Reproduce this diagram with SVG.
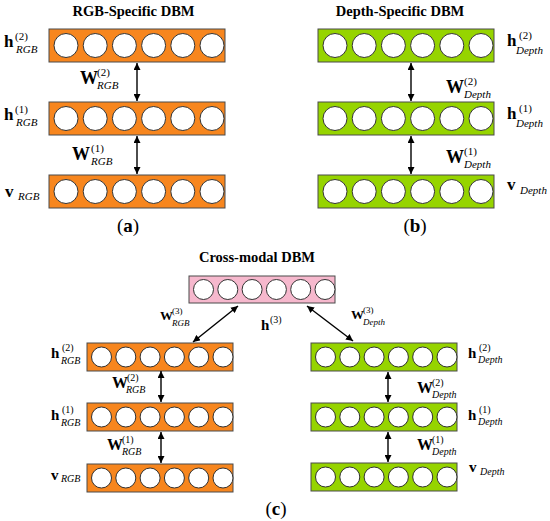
<svg xmlns="http://www.w3.org/2000/svg" xmlns:xlink="http://www.w3.org/1999/xlink" width="550" height="521" viewBox="0 0 550 521">
<style>
text{font-family:"Liberation Serif","Times New Roman",serif;fill:#000}
.title{font-size:14.5px;font-weight:bold;text-anchor:middle}
.big{font-size:17px;font-weight:bold}
.wbig{font-size:18px;font-weight:bold}
.mid{font-size:15px;font-weight:bold}
.wmid{font-size:16px;font-weight:bold}
.sm{font-size:13px;font-weight:bold}
.sup{font-size:11px}
.sub{font-size:11px;font-style:italic}
.sup2{font-size:10px}
.sub2{font-size:10px;font-style:italic}
.sup3{font-size:9px}
.sub3{font-size:9px;font-style:italic}
.cap{font-size:19px;text-anchor:middle}
.org{fill:#f7861e;stroke:#4a4a4a;stroke-width:1}
.grn{fill:#96d400;stroke:#4a4a4a;stroke-width:1}
.pnk{fill:#f6b8cd;stroke:#4a4a4a;stroke-width:1}
.cir{fill:#fff;stroke:#333;stroke-width:1}
.arr{stroke:#000;stroke-width:1.4;fill:none;marker-start:url(#ah);marker-end:url(#ah)}
</style>
<defs>
<marker id="ah" viewBox="0 0 10 10" refX="10" refY="5" markerWidth="5.5" markerHeight="5" orient="auto-start-reverse" markerUnits="strokeWidth">
<path d="M0,0 L10,5 L0,10 z" fill="#000"/>
</marker>
<g id="cb">
<circle class="cir" cx="17" cy="16.5" r="12"/>
<circle class="cir" cx="46.2" cy="16.5" r="12"/>
<circle class="cir" cx="75.4" cy="16.5" r="12"/>
<circle class="cir" cx="104.6" cy="16.5" r="12"/>
<circle class="cir" cx="133.8" cy="16.5" r="12"/>
<circle class="cir" cx="163" cy="16.5" r="12"/>
</g>
<g id="cs">
<circle class="cir" cx="14.5" cy="14" r="10"/>
<circle class="cir" cx="38.8" cy="14" r="10"/>
<circle class="cir" cx="63.1" cy="14" r="10"/>
<circle class="cir" cx="87.4" cy="14" r="10"/>
<circle class="cir" cx="111.7" cy="14" r="10"/>
<circle class="cir" cx="136" cy="14" r="10"/>
</g>
</defs>

<!-- Titles and captions -->
<text class="title" x="133.5" y="16">RGB-Specific DBM</text>
<text class="title" x="400" y="16">Depth-Specific DBM</text>
<text class="title" x="257" y="262">Cross-modal DBM</text>
<text class="cap" x="128" y="232">(<tspan font-weight="bold">a</tspan>)</text>
<text class="cap" x="415" y="232">(<tspan font-weight="bold">b</tspan>)</text>
<text class="cap" x="276" y="515">(<tspan font-weight="bold">c</tspan>)</text>

<!-- Panel (a) -->
<g id="a_h2">
<rect class="org" x="49" y="29" width="176" height="33"/>
<use xlink:href="#cb" href="#cb" transform="translate(49,29)"/>
<text class="big" x="4" y="47">h</text><text class="sup" x="15" y="40">(2)</text><text class="sub" x="16" y="53">RGB</text>
</g>
<g id="a_h1">
<rect class="org" x="49" y="102" width="176" height="33"/>
<use xlink:href="#cb" href="#cb" transform="translate(49,102)"/>
<text class="big" x="4" y="120">h</text><text class="sup" x="15" y="113">(1)</text><text class="sub" x="16" y="126">RGB</text>
</g>
<g id="a_v">
<rect class="org" x="49" y="175" width="176" height="33"/>
<use xlink:href="#cb" href="#cb" transform="translate(49,175)"/>
<text class="big" x="5" y="197">v</text><text class="sub" x="18" y="200">RGB</text>
</g>

<!-- Panel (b) -->
<g id="b_h2">
<rect class="grn" x="318" y="29" width="176" height="33"/>
<use xlink:href="#cb" href="#cb" transform="translate(318,29)"/>
<text class="big" x="507" y="46">h</text><text class="sup" x="519" y="39">(2)</text><text class="sub" x="516" y="54">Depth</text>
</g>
<g id="b_h1">
<rect class="grn" x="318" y="102" width="176" height="33"/>
<use xlink:href="#cb" href="#cb" transform="translate(318,102)"/>
<text class="big" x="507" y="119">h</text><text class="sup" x="519" y="112">(1)</text><text class="sub" x="516" y="127">Depth</text>
</g>
<g id="b_v">
<rect class="grn" x="318" y="175" width="176" height="33"/>
<use xlink:href="#cb" href="#cb" transform="translate(318,175)"/>
<text class="big" x="507" y="190">v</text><text class="sub" x="520" y="194">Depth</text>
</g>

<!-- Panel (c) -->
<g id="c_h3">
<rect class="pnk" x="189" y="276" width="146" height="27"/>
<use xlink:href="#cs" href="#cs" transform="translate(189,275.5)"/>
<text class="mid" x="261" y="330">h</text><text class="sup2" x="270" y="323">(3)</text>
</g>
<g id="c_rgb_h2">
<rect class="org" x="87" y="343" width="146" height="28"/>
<use xlink:href="#cs" href="#cs" transform="translate(87,343)"/>
<text class="mid" x="51" y="358">h</text><text class="sup2" x="62" y="351">(2)</text><text class="sub2" x="61" y="364">RGB</text>
</g>
<g id="c_rgb_h1">
<rect class="org" x="87" y="403" width="146" height="28"/>
<use xlink:href="#cs" href="#cs" transform="translate(87,403)"/>
<text class="mid" x="51" y="420">h</text><text class="sup2" x="62" y="413">(1)</text><text class="sub2" x="61" y="426">RGB</text>
</g>
<g id="c_rgb_v">
<rect class="org" x="87" y="464" width="146" height="28"/>
<use xlink:href="#cs" href="#cs" transform="translate(87,464)"/>
<text class="mid" x="51" y="480">v</text><text class="sub2" x="61" y="482">RGB</text>
</g>
<g id="c_dep_h2">
<rect class="grn" x="311" y="343" width="146" height="28"/>
<use xlink:href="#cs" href="#cs" transform="translate(311,343)"/>
<text class="mid" x="468" y="358">h</text><text class="sup2" x="479" y="351">(2)</text><text class="sub2" x="478" y="363">Depth</text>
</g>
<g id="c_dep_h1">
<rect class="grn" x="311" y="403" width="146" height="28"/>
<use xlink:href="#cs" href="#cs" transform="translate(311,403)"/>
<text class="mid" x="468" y="420">h</text><text class="sup2" x="479" y="413">(1)</text><text class="sub2" x="478" y="425">Depth</text>
</g>
<g id="c_dep_v">
<rect class="grn" x="311" y="463" width="146" height="28"/>
<use xlink:href="#cs" href="#cs" transform="translate(311,463)"/>
<text class="mid" x="469" y="472">v</text><text class="sub2" x="480" y="475">Depth</text>
</g>

<!-- Connectors -->
<g id="connectors">
<line class="arr" x1="137" y1="63" x2="137" y2="101"/>
<line class="arr" x1="137" y1="136" x2="137" y2="174"/>
<line class="arr" x1="411" y1="63" x2="411" y2="101"/>
<line class="arr" x1="411" y1="136" x2="411" y2="174"/>
<line class="arr" x1="161" y1="371" x2="161" y2="402"/>
<line class="arr" x1="161" y1="432" x2="161" y2="463"/>
<line class="arr" x1="388" y1="372" x2="388" y2="402"/>
<line class="arr" x1="388" y1="432" x2="388" y2="462"/>
<line class="arr" x1="238" y1="306" x2="193" y2="342"/>
<line class="arr" x1="307" y1="306" x2="353" y2="341"/>
</g>

<!-- Weight labels -->
<g id="weights">
<text class="wbig" x="80" y="84">W</text><text class="sup" x="97" y="76">(2)</text><text class="sub" x="97" y="89">RGB</text>
<text class="wbig" x="72" y="160">W</text><text class="sup" x="91" y="152">(1)</text><text class="sub" x="91" y="165">RGB</text>
<text class="wbig" x="446" y="93">W</text><text class="sup" x="464" y="85">(2)</text><text class="sub" x="464" y="98">Depth</text>
<text class="wbig" x="446" y="163">W</text><text class="sup" x="464" y="155">(1)</text><text class="sub" x="464" y="168">Depth</text>
<text class="sm" x="160" y="320">W</text><text class="sup3" x="172" y="314">(3)</text><text class="sub3" x="172" y="326">RGB</text>
<text class="sm" x="351" y="319">W</text><text class="sup3" x="363" y="313">(3)</text><text class="sub3" x="363" y="325">Depth</text>
<text class="wmid" x="112" y="388">W</text><text class="sup2" x="127" y="381">(2)</text><text class="sub2" x="126" y="393">RGB</text>
<text class="wmid" x="107" y="450">W</text><text class="sup2" x="122" y="443">(1)</text><text class="sub2" x="122" y="455">RGB</text>
<text class="wmid" x="417" y="393">W</text><text class="sup2" x="432" y="386">(2)</text><text class="sub2" x="432" y="398">Depth</text>
<text class="wmid" x="417" y="450">W</text><text class="sup2" x="432" y="443">(1)</text><text class="sub2" x="432" y="455">Depth</text>
</g>
</svg>
